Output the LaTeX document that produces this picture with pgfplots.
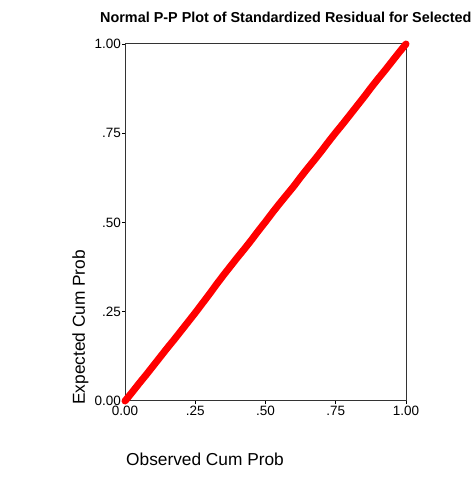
\documentclass[border=0pt]{standalone}
\usepackage{pgfplots}
\pgfplotsset{compat=1.18}
\usepackage{fontspec}
\setmainfont{Liberation Sans}
\begin{document}
\begin{tikzpicture}[x=1pt,y=1pt]
\path[use as bounding box] (0pt,0pt) rectangle (474pt,479pt);
\clip (0pt,0pt) rectangle (474pt,479pt);
\node[anchor=base west, inner sep=0pt, font=\fontsize{14.4}{16}\selectfont\bfseries] at (100pt,456pt) {Normal P-P Plot of Standardized Residual for Selected Cases};
\begin{axis}[
  at={(125pt,78pt)}, anchor=south west,
  scale only axis, width=281pt, height=357pt,
  xmin=0, xmax=1, ymin=0, ymax=1,
  xtick={0,0.25,0.5,0.75,1}, ytick={0,0.25,0.5,0.75,1},
  xticklabels={0.00,.25,.50,.75,1.00},
  yticklabels={0.00,.25,.50,.75,1.00},
  tick align=outside, xtick pos=bottom, ytick pos=left,
  major tick length=3pt,
  tick style={black, line width=0.8pt},
  axis line style={black!80, line width=1pt},
  /pgf/number format/assume math mode=true,
  tick label style={font=\fontsize{13.5}{16}\selectfont},
  xticklabel style={inner sep=2pt},
  yticklabel style={inner sep=1pt},
  xlabel={Observed Cum Prob},
  ylabel={Expected Cum Prob},
  label style={font=\fontsize{17.3}{20}\selectfont},
  xlabel style={at={(axis description cs:0,0)}, anchor=base west, inner sep=0pt, yshift=-64pt, xshift=1pt},
  ylabel style={at={(axis description cs:0,0)}, anchor=base west, inner sep=0pt, yshift=40pt, xshift=-4pt},
  clip=false,
]
\addplot[red, line width=7pt, line cap=round, line join=round] coordinates {
(0,0) (0.025,0.024) (0.05,0.049) (0.075,0.073) (0.10,0.098) (0.125,0.123) (0.15,0.148) (0.175,0.172) (0.20,0.197)
(0.225,0.222) (0.25,0.247) (0.275,0.273) (0.30,0.299) (0.325,0.326) (0.35,0.352) (0.375,0.377) (0.40,0.402)
(0.425,0.426) (0.45,0.451) (0.475,0.477) (0.50,0.502) (0.525,0.528) (0.55,0.553) (0.575,0.577) (0.60,0.601)
(0.625,0.627) (0.65,0.652) (0.675,0.676) (0.70,0.701) (0.725,0.727) (0.75,0.752) (0.775,0.776) (0.80,0.801)
(0.825,0.826) (0.85,0.851) (0.875,0.877) (0.90,0.902) (0.925,0.926) (0.95,0.951) (0.975,0.976) (1,1)
};
\end{axis}
\end{tikzpicture}
\end{document}
